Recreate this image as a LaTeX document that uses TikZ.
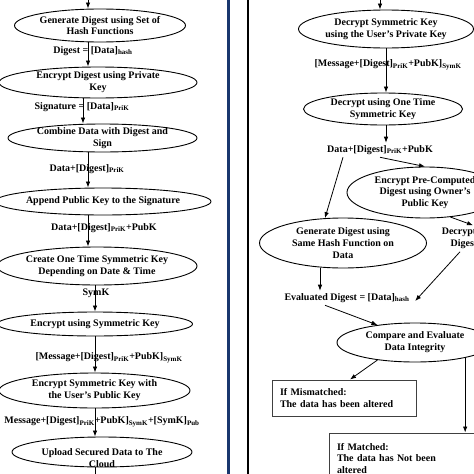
\documentclass[tikz,border=0pt]{standalone}
\usepackage{fontspec}
\setmainfont{Liberation Serif}
\usetikzlibrary{shapes.geometric, arrows.meta, calc}
\definecolor{navy}{RGB}{25,55,110}
\tikzset{
  ell/.style={draw, ellipse, inner sep=0pt, line width=0.9pt},
  txt/.style={font=\bfseries\fontsize{10}{11.8}\selectfont, align=center, inner sep=0pt},
  lbl/.style={font=\bfseries\fontsize{10}{12}\selectfont, inner sep=2.5pt, align=center},
  box/.style={draw=black!75, line width=1pt, rectangle, align=left,
    font=\bfseries\fontsize{10}{11.5}\selectfont, inner xsep=8pt, inner ysep=0pt},
  arr/.style={line width=0.8pt, -{Latex[length=6pt,width=4.5pt]}},
  ln/.style={line width=0.8pt},
}
\begin{document}
\begin{tikzpicture}[x=1pt, y=-1pt]
\useasboundingbox (0,0) rectangle (474,474);
\clip (0,0) rectangle (474,474);

% separators
\draw[navy, line width=3pt] (228,-5) -- (228,480);
\draw[black, line width=2pt] (247.7,-5) -- (247.7,480);

% column x positions
\coordinate (cT1) at (88,0);
\coordinate (cA) at (88,0);
\coordinate (cB) at (83,0);
\coordinate (cC) at (95,0);
\coordinate (cBot) at (95,480);
\coordinate (cT2) at (380,0);
\coordinate (cD) at (386,0);
\coordinate (cE) at (320,0);
\coordinate (cF) at (350,0);

% left column
\node[ell, minimum width=171pt, minimum height=33pt,
  label={[txt]center:{Generate Digest using Set of\\Hash Functions}}] (e1) at (100,25.5) {};
\node[lbl] (l1) at (93,51) {Digest = [Data]\textsubscript{hash}};
\node[ell, minimum width=198pt, minimum height=31pt,
  label={[txt]center:{Encrypt Digest using Private\\Key}}] (e2) at (98,82.5) {};
\node[lbl] (l2) at (82,107) {Signature = [Data]\textsubscript{PriK}};
\node[ell, minimum width=189pt, minimum height=28pt,
  label={[txt]center:{Combine Data with Digest and\\Sign}}] (e3) at (102.5,138) {};
\node[lbl] (l3) at (87,169) {Data+[Digest]\textsubscript{PriK}};
\node[ell, minimum width=216pt, minimum height=27pt,
  label={[txt]center:{Append Public Key to the Signature}}] (e4) at (103,201.5) {};
\node[lbl] (l4) at (104,228) {Data+[Digest]\textsubscript{PriK}+PubK};
\node[ell, minimum width=200pt, minimum height=38pt,
  label={[txt]center:{Create One Time Symmetric Key\\Depending on Date \& Time}}] (e5) at (97,266) {};
\node[lbl] (l5) at (96,293) {SymK};
\node[ell, minimum width=195pt, minimum height=24pt,
  label={[txt]center:{Encrypt using Symmetric Key}}] (e6) at (95,324) {};
\node[lbl] (l6) at (109,358) {[Message+[Digest]\textsubscript{PriK}+PubK]\textsubscript{SymK}};
\node[ell, minimum width=191pt, minimum height=35pt,
  label={[txt]center:{Encrypt Symmetric Key with\\the User's Public Key}}] (e7) at (94.5,390.5) {};
\node[lbl] (l7) at (102,422) {Message+[Digest]\textsubscript{PriK}+PubK]\textsubscript{SymK}+[SymK]\textsubscript{Pub}};
\node[ell, minimum width=180pt, minimum height=30pt,
  label={[txt,yshift=-6pt]center:{Upload Secured Data to The\\Cloud}}] (e8) at (102,452) {};

\draw[arr] (cT1) -- (e1.north -| cT1);
\draw[arr] (e1.south -| cA) -- (e2.north -| cA);
\draw[arr] (e2.south -| cB) -- (e3.north -| cB);
\draw[arr] (e3.south -| cA) -- (e4.north -| cA);
\draw[arr] (e4.south -| cA) -- (e5.north -| cA);
\draw[arr] (e5.south -| cC) -- (e6.north -| cC);
\draw[arr] (e6.south -| cC) -- (e7.north -| cC);
\draw[arr] (e7.south -| cC) -- (e8.north -| cC);
\draw[ln] (e8.south -| cC) -- (cBot);

% right column
\node[ell, minimum width=175pt, minimum height=38pt,
  label={[txt]center:{Decrypt Symmetric Key\\using the User's Private Key}}] (r1) at (386,29) {};
\node[lbl] (lr1) at (388,65) {[Message+[Digest]\textsubscript{PriK}+PubK]\textsubscript{SymK}};
\node[ell, minimum width=159pt, minimum height=32pt,
  label={[txt]center:{Decrypt using One Time\\Symmetric Key}}] (r2) at (383,109) {};
\node[lbl] (lr2) at (380,150) {Data+[Digest]\textsubscript{PriK}+PubK};
\node[ell, minimum width=156pt, minimum height=51pt,
  label={[txt]center:{Encrypt Pre-Computed\\Digest using Owner's\\Public Key}}] (r3) at (425,192.5) {};
\node[lbl] (dd) at (464,238.5) {Decrypted\\Digest};
\node[ell, minimum width=167pt, minimum height=50pt,
  label={[txt]center:{Generate Digest using\\Same Hash Function on\\Data}}] (r4) at (343,243) {};
\node[lbl] (ev) at (347,298) {Evaluated Digest = [Data]\textsubscript{hash}};
\node[ell, minimum width=156pt, minimum height=39pt,
  label={[txt]center:{Compare and Evaluate\\Data Integrity}}] (r5) at (415,342.5) {};
\node[box, minimum width=144pt, minimum height=36pt, text width=128pt] (mm) at (344,398)
  {If Mismatched:\\The data has been altered};
\node[box, minimum width=212pt, minimum height=51pt, text width=196pt] (mr) at (435,458.5)
  {If Matched:\\The data has Not been\\altered};

\draw[arr] (cT2) -- (r1.north -| cT2);
\draw[arr] (r1.south -| cD) -- (r2.north -| cD);
\draw[arr] (r2.south -| cD) -- (lr2.north -| cD);
\draw[arr] ([xshift=-37pt]lr2.south) -- (r4.126);
\draw[arr] (lr2.south) -- (r3.north);
\draw[arr] (r3.-44) -- ([xshift=9pt]dd.north);
\draw[arr] ([xshift=-4pt]dd.south) -- ([xshift=3pt,yshift=-3pt]ev.east);
\draw[arr] (r4.south -| cE) -- (ev.north -| cE);
\draw[arr] ([xshift=-22pt]ev.south) -- (r5.155);
\draw[arr] (r5.205) -- (mm.north -| cF);
\draw[arr] (r5.-17) -- (r5.-17 |- mr.north);
\end{tikzpicture}
\end{document}
